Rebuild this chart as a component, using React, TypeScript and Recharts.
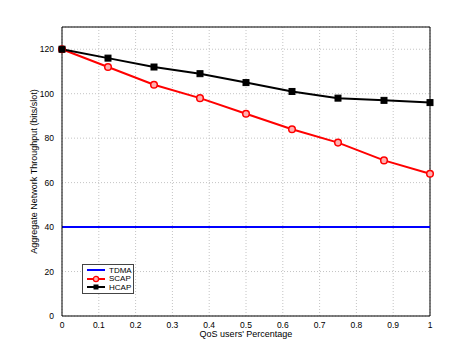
import React from 'react';
import { LineChart, Line, XAxis, YAxis, CartesianGrid, Legend, ReferenceLine } from 'recharts';

const xValues = [0, 0.125, 0.25, 0.375, 0.5, 0.625, 0.75, 0.875, 1];
const tdma = [40, 40, 40, 40, 40, 40, 40, 40, 40];
const scap = [120, 112, 104, 98, 91, 84, 78, 70, 64];
const hcap = [120, 116, 112, 109, 105, 101, 98, 97, 96];
const xTicks = [0, 0.1, 0.2, 0.3, 0.4, 0.5, 0.6, 0.7, 0.8, 0.9, 1];
const yTicks = [0, 20, 40, 60, 80, 100, 120];

const data = xValues.map((x, i) => ({ x, tdma: tdma[i], scap: scap[i], hcap: hcap[i] }));

const FONT = '"Liberation Sans", Arial, sans-serif';

const SquareDot = (props: any) => {
  const { cx, cy } = props;
  if (cx == null || cy == null) return null;
  return <rect x={cx - 3} y={cy - 3} width={6} height={6} fill="#000" stroke="#000" strokeWidth={1} />;
};

const CircleDot = (props: any) => {
  const { cx, cy } = props;
  if (cx == null || cy == null) return null;
  return <circle cx={cx} cy={cy} r={3.3} fill="#ffb0b0" stroke="#ff0000" strokeWidth={1.5} />;
};

const LegendBox = () => {
  const items = [
    { name: 'TDMA', color: '#0000ff', marker: null },
    { name: 'SCAP', color: '#ff0000', marker: 'circle' },
    { name: 'HCAP', color: '#000000', marker: 'square' },
  ];
  return (
    <div style={{ border: '1px solid #444', background: '#fff', width: 50, padding: '1px 0 1px 0', fontFamily: FONT, fontSize: 8, lineHeight: '9px' }}>
      {items.map((it) => (
        <div key={it.name} style={{ display: 'flex', alignItems: 'center', height: 8.5 }}>
          <svg width={26} height={8} style={{ display: 'block' }}>
            <line x1={4} y1={4} x2={22} y2={4} stroke={it.color} strokeWidth={2} />
            {it.marker === 'circle' && <circle cx={13} cy={4} r={2.6} fill="#ffb0b0" stroke={it.color} strokeWidth={1.3} />}
            {it.marker === 'square' && <rect x={10.5} y={1.5} width={5} height={5} fill="#000" />}
          </svg>
          <span style={{ color: '#000' }}>{it.name}</span>
        </div>
      ))}
    </div>
  );
};

export default function App() {
  return (
    <div style={{ position: 'absolute', left: 0, top: 0, width: 474, height: 355, background: '#fff' }}>
      <LineChart width={474} height={355} data={data} margin={{ top: 27, right: 44, left: 0, bottom: 0 }}>
        <CartesianGrid stroke="#c4c4c4" strokeDasharray="1 2" vertical horizontal />
        <XAxis
          dataKey="x"
          type="number"
          domain={[0, 1]}
          ticks={xTicks}
          tickFormatter={(v: number) => String(Math.round(v * 10) / 10)}
          height={39}
          stroke="#000"
          tickLine={false}
          tick={{ fontSize: 8.5, fill: '#000', fontFamily: FONT }}
          tickMargin={0}
          label={{ value: "QoS users' Percentage", position: 'insideBottom', offset: 18, fontSize: 9, fill: '#000', fontFamily: FONT }}
        />
        <YAxis
          type="number"
          domain={[0, 130]}
          ticks={yTicks}
          width={62}
          stroke="#000"
          tickLine={false}
          tick={{ fontSize: 8.5, fill: '#000', fontFamily: FONT }}
          tickMargin={2}
          label={{ value: 'Aggregate Network Throughput (bits/slot)', angle: -90, position: 'insideLeft', offset: 34, style: { textAnchor: 'middle' }, fontSize: 9, fill: '#000', fontFamily: FONT }}
        />
        <ReferenceLine y={130} stroke="#000" strokeWidth={1} />
        <ReferenceLine x={1} stroke="#000" strokeWidth={1} />
        <Line dataKey="tdma" stroke="#0000ff" strokeWidth={2} dot={false} isAnimationActive={false} />
        <Line dataKey="scap" stroke="#ff0000" strokeWidth={2} dot={<CircleDot />} isAnimationActive={false} />
        <Line dataKey="hcap" stroke="#000000" strokeWidth={2} dot={<SquareDot />} isAnimationActive={false} />
        <Legend
          layout="vertical"
          align="center"
          verticalAlign="middle"
          content={<LegendBox />}
          wrapperStyle={{ left: 82, top: 264, width: 52 }}
        />
      </LineChart>
    </div>
  );
}
